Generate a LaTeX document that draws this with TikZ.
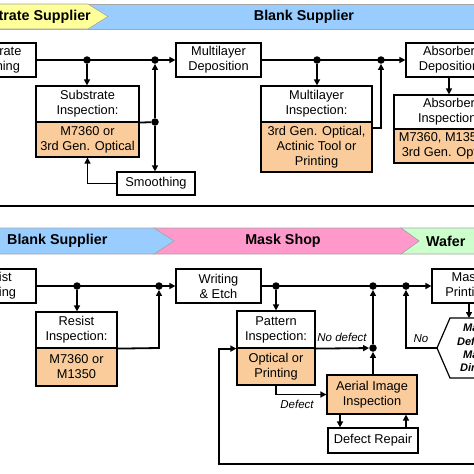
\documentclass[tikz,border=0pt]{standalone}
\usepackage{fontspec}
\setmainfont{Liberation Sans}
\usetikzlibrary{arrows.meta,calc}
\definecolor{orng}{RGB}{250,204,156}
\definecolor{bannerblue}{RGB}{153,204,255}
\definecolor{banneryellow}{RGB}{255,255,153}
\definecolor{bannerpink}{RGB}{255,153,204}
\definecolor{bannergreen}{RGB}{204,255,204}
\begin{document}
\begin{tikzpicture}[x=1pt,y=-1pt,
  box/.style={draw, line width=1.2pt, fill=white, inner sep=0pt, align=center, font=\fontsize{12.8}{15}\selectfont},
  obox/.style={box, fill=orng},
  conn/.style={line width=1.8pt},
  arr/.style={conn, -{Triangle[length=6pt,width=6pt]}},
  dot/.style={circle, fill=black, inner sep=0pt, minimum size=7.5pt},
  lab/.style={inner sep=0pt, font=\fontsize{11.5}{13}\selectfont\itshape},
  banner/.style={draw=gray!70, line width=0.6pt},
  btext/.style={inner sep=0pt, font=\fontsize{14.3}{16}\selectfont\bfseries},
  hextext/.style={inner sep=0pt, align=center, font=\fontsize{11}{13.3}\selectfont\bfseries\itshape}]
\useasboundingbox (0,0) rectangle (474,474);
\clip (0,0) rectangle (474,474);
\fill[white] (0,0) rectangle (474,474);

% ---------- top banner ----------
\path[banner, fill=bannerblue] (-5,4) rectangle (480,29);
\path[banner, fill=banneryellow] (-5,4) -- (88,4) -- (108,16.5) -- (88,29) -- (-5,29) -- cycle;
\node[btext, anchor=east] (tsub) at (91,17) {Substrate Supplier};
\node[btext] (tblank) at (304,17) {Blank Supplier};

% ---------- top row ----------
\node[box, minimum width=84pt, minimum height=34pt] (spol) at (-6,60) {Substrate\\Polishing};
\node[box, minimum width=85pt, minimum height=34pt] (mldep) at (218.5,60) {Multilayer\\Deposition};
\node[box, minimum width=86pt, minimum height=34pt] (absdep) at (449,60) {Absorber\\Deposition};

\node[box, minimum width=103pt, minimum height=36pt] (sinsT) at (87.5,104) {Substrate\\Inspection:};
\node[obox, minimum width=103pt, minimum height=35pt] (sinsB) at (87.5,139.5) {M7360 or\\3rd Gen. Optical};
\node[box, minimum width=78pt, minimum height=23pt] (smooth) at (156,183.5) {Smoothing};

\node[box, minimum width=111pt, minimum height=36pt] (mlinsT) at (316.5,104) {Multilayer\\Inspection:};
\node[obox, minimum width=111pt, minimum height=50pt] (mlinsB) at (316.5,147) {3rd Gen. Optical,\\Actinic Tool or\\Printing};

\node[box, minimum width=110pt, minimum height=34pt] (absinsT) at (449,112) {Absorber\\Inspection:};
\node[obox, minimum width=110pt, minimum height=34pt] (absinsB) at (449,146) {M7360, M1350 or\\3rd Gen. Optical};

\node[dot] (j1) at (87,60) {};
\node[dot] (j2) at (155,60) {};
\node[dot] (j3) at (155,122) {};
\node[dot] (j4) at (317,60) {};
\node[dot] (j5) at (381,60) {};
\coordinate (j6) at (381,128);

\draw[arr] (spol.east) -- (mldep.west);
\draw[arr] (j1) -- (j1 |- sinsT.north);
\draw[conn] (sinsT.south east) -- (j3);
\draw[arr] (j3) -- (j2);
\draw[arr] (j3) -- (j3 |- smooth.north);
\draw[arr] (smooth.west) -| (sinsB.south);

\draw[arr] (mldep.east) -- (absdep.west);
\draw[arr] (j4) -- (j4 |- mlinsT.north);
\draw[arr] (j6 -| mlinsB.east) -- (j6) -- (j5);
\draw[arr] (absdep.south) -- (absinsT.north);

% ---------- separator ----------
\draw[line width=2.2pt] (-5,206) -- (480,206);

% ---------- bottom banner ----------
\path[banner, fill=bannergreen] (401,228) -- (480,228) -- (480,254) -- (401,254) -- (419,241) -- cycle;
\path[banner, fill=bannerpink] (154,228) -- (401,228) -- (419,241) -- (401,254) -- (154,254) -- (174,241) -- cycle;
\path[banner, fill=bannerblue] (-5,228) -- (154,228) -- (174,241) -- (154,254) -- (-5,254) -- cycle;
\node[btext, anchor=west] (bblank) at (7,241) {Blank Supplier};
\node[btext] (bmask) at (283,241) {Mask Shop};
\node[btext, anchor=west] (bwafer) at (426,241) {Wafer};

% ---------- bottom row ----------
\node[box, minimum width=84pt, minimum height=34pt] (rcoat) at (-6,286) {Resist\\Coating};
\node[box, minimum width=85pt, minimum height=34pt] (wetch) at (218.5,286) {Writing\\\& Etch};
\node[box, minimum width=70pt, minimum height=34pt] (mprint) at (467,286) {Mask\\Printing};

\node[box, minimum width=81pt, minimum height=36pt] (rinsT) at (76.5,330) {Resist\\Inspection:};
\node[obox, minimum width=81pt, minimum height=38pt] (rinsB) at (76.5,367) {M7360 or\\M1350};

\node[box, minimum width=78pt, minimum height=37pt] (pinsT) at (276,329.5) {Pattern\\Inspection:};
\node[obox, minimum width=78pt, minimum height=37pt] (pinsB) at (276,366.5) {Optical or\\Printing};

\node[obox, minimum width=90pt, minimum height=39pt] (aerial) at (372,394.5) {Aerial Image\\Inspection};
\node[box, minimum width=90pt, minimum height=25pt] (repair) at (373,440.5) {Defect Repair};

% decision hexagon
\coordinate (hexL) at (437,348);
\coordinate (hexT) at (469,318);
\draw[line width=1.2pt, fill=white] (hexL) -- (450,318) -- (502,318) -- (515,348) -- (502,378) -- (450,378) -- cycle;
\node[hextext] (dec) at (477,348) {Mask\\Defects\\Mask\\Dims?};

\node[dot] (k1) at (77,286) {};
\node[dot] (k2) at (159,286) {};
\node[dot] (k3) at (276,286) {};
\node[dot] (k4) at (373,286) {};
\node[dot] (k5) at (406,286) {};
\node[dot] (k6) at (373,348) {};
\coordinate (k7) at (159,348);
\coordinate (fbA) at (480,464);
\coordinate (fbB) at (219,464);

\draw[arr] (rcoat.east) -- (wetch.west);
\draw[arr] (k1) -- (k1 |- rinsT.north);
\draw[arr] (rinsT.south east) -- (k7) -- (k2);

\draw[arr] (wetch.east) -- (mprint.west);
\draw[arr] (k3) -- (pinsT.north);
\draw[arr, line width=2.2pt] (fbA) -- (fbB) |- (pinsT.south west);
\draw[arr] (pinsT.south east) -- (k6);
\node[lab] (lnodef) at (342,337) {No defect};
\draw[arr] (k6) -- (k4);
\draw[arr] (k6 |- aerial.north) -- (k6);
\draw[arr] (pinsB.south) |- (aerial.west);
\node[lab] (ldef) at (297,404) {Defect};
\draw[arr] ([xshift=-32pt]aerial.south) -- ([xshift=-32pt]aerial.south |- repair.north);
\draw[arr] ([xshift=33pt]repair.north) -- ([xshift=33pt]repair.north |- aerial.south);
\draw[arr] (mprint.south -| hexT) -- (hexT);
\draw[arr] (hexL) -| (k5);
\node[lab] (lno) at (421,339) {No};
\end{tikzpicture}
\end{document}
